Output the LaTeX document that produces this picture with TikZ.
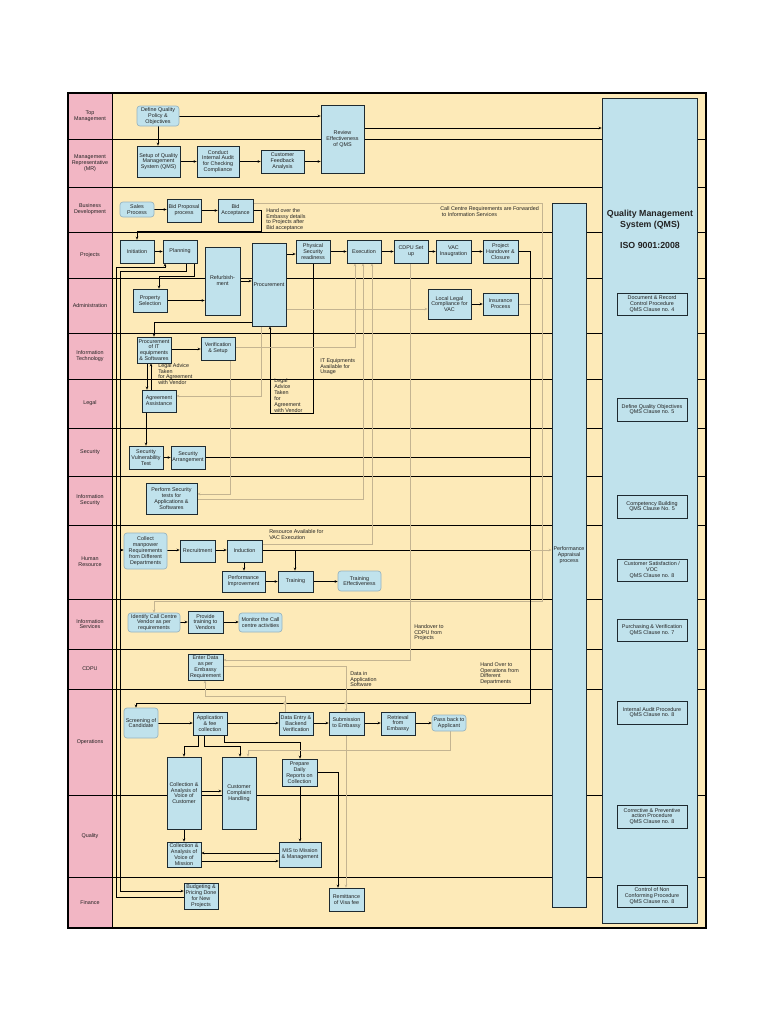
\documentclass[tikz,border=0pt]{standalone}
\usepackage{fontspec}
\setmainfont{Liberation Sans}
\usetikzlibrary{arrows.meta}
\definecolor{lane}{HTML}{FDEAB8}
\definecolor{pinkc}{HTML}{F2B6C4}
\definecolor{bfill}{HTML}{C0E2EC}
\definecolor{bord}{HTML}{1E2A30}
\definecolor{rbord}{HTML}{97B4BF}
\definecolor{gline}{HTML}{C4B491}
\definecolor{textc}{HTML}{222222}
\pgfdeclarelayer{bg}
\pgfdeclarelayer{mid}
\pgfsetlayers{bg,mid,main}
\newcommand\bx[7][box]{\node[#1, minimum width={(#5-#3)*0.75pt}, minimum height={(#6-#4)*0.75pt}] (#2) at ({(#3+#5)/2},{(#4+#6)/2}) {#7};}
\begin{document}
\begin{tikzpicture}[x=0.75pt,y=-0.75pt,
  every node/.style={font=\fontsize{4.05}{4.4}\selectfont, text=textc},
  box/.style={draw=bord, fill=bfill, line width=0.55pt, align=center, inner sep=0.2pt},
  rbox/.style={box, draw=rbord, rounded corners=2.2pt, line width=0.5pt},
  cbox/.style={box, line width=0.65pt},
  arr/.style={draw=black, line width=0.5pt, -{Stealth[length=2.2pt,width=1.9pt]}},
  ln/.style={draw=black, line width=0.5pt},
  garr/.style={draw=gline, line width=0.45pt, -{Stealth[length=2.2pt,width=1.9pt]}},
  gln/.style={draw=gline, line width=0.45pt},
  lbl/.style={align=left, inner sep=0pt, anchor=north west},
  lanel/.style={align=center, inner sep=0pt},
]
\useasboundingbox (0,0) rectangle (768,1024);
\begin{pgfonlayer}{bg}
\fill[lane] (68,93) rectangle (706,928);
\fill[pinkc] (68,93) rectangle (112,928);
\foreach \y in {139,187,232,278,333,379,428,476,525,599,649,689,795,877}
  \draw[line width=0.6pt] (68,\y) -- (706,\y);
\draw[line width=0.7pt] (112,93) -- (112,928);
\draw[line width=0.9pt] (68,93) rectangle (706,928);
\end{pgfonlayer}

% lane labels
\node[lanel] (L1) at (90,116) {Top\\Management};
\node[lanel] (L2) at (90,163) {Management\\Representative\\(MR)};
\node[lanel] (L3) at (90,209.5) {Business\\Development};
\node[lanel] (L4) at (90,255) {Projects};
\node[lanel] (L5) at (90,305.5) {Administration};
\node[lanel] (L6) at (90,356) {Information\\Technology};
\node[lanel] (L7) at (90,403.5) {Legal};
\node[lanel] (L8) at (90,452) {Security};
\node[lanel] (L9) at (90,500.5) {Information\\Security};
\node[lanel] (L10) at (90,562) {Human\\Resource};
\node[lanel] (L11) at (90,624) {Information\\Services};
\node[lanel] (L12) at (90,669) {CDPU};
\node[lanel] (L13) at (90,742) {Operations};
\node[lanel] (L14) at (90,836) {Quality};
\node[lanel] (L15) at (90,902.5) {Finance};

% big right boxes
\bx{qms}{602}{98}{697}{923}{}
\bx{pa}{552}{203}{586}{907}{Performance\\Appraisal\\process}
\node[font=\bfseries\fontsize{6.6}{8.2}\selectfont, align=center, inner sep=0pt] (qt) at (650,219.5) {Quality Management\\System (QMS)};
\node[font=\bfseries\fontsize{6.6}{8}\selectfont, inner sep=0pt] (iso) at (650,245) {ISO 9001:2008};
\bx[cbox]{c1}{617}{293}{687}{315}{Document \& Record\\Control Procedure\\QMS Clause no. 4}
\bx[cbox]{c2}{617}{398}{687}{421}{Define Quality Objectives\\QMS Clause no. 5}
\bx[cbox]{c3}{617}{495}{687}{518}{Competency Building\\QMS Clause No. 5}
\bx[cbox]{c4}{617}{559}{687}{581}{Customer Satisfaction /\\VOC\\QMS Clause no. 8}
\bx[cbox]{c5}{617}{619}{687}{641}{Purchasing \& Verification\\QMS Clause no. 7}
\bx[cbox]{c6}{617}{701}{687}{724}{Internal Audit Procedure\\QMS Clause no. 8}
\bx[cbox]{c7}{617}{805}{687}{828}{Corrective \& Preventive\\action Procedure\\QMS Clause no. 8}
\bx[cbox]{c8}{617}{885}{687}{907}{Control of Non\\Conforming Procedure\\QMS Clause no. 8}

% process boxes
\bx[rbox]{dq}{137}{106}{179}{126}{Define Quality\\Policy \&\\Objectives}
\bx{sq}{137}{146}{180}{177}{Setup of Quality\\Management\\System (QMS)}
\bx{ia}{197}{146}{239}{177}{Conduct\\Internal Audit\\for Checking\\Compliance}
\bx{cf}{261}{150}{304}{173}{Customer\\Feedback\\Analysis}
\bx{rv}{321}{105}{364}{173}{Review\\Effectiveness\\of QMS}
\bx[rbox]{sp}{120}{202}{154}{217}{Sales\\Process}
\bx{bp}{167}{199}{201}{222}{Bid Proposal\\process}
\bx{ba}{218}{199}{253}{222}{Bid\\Acceptance}
\bx{ini}{120}{240}{154}{263}{Initiation}
\bx{pl}{163}{240}{197}{263}{Planning}
\bx{rf}{205}{247}{240}{315}{Refurbish-\\ment}
\bx{pr}{252}{243}{286}{326}{Procurement}
\bx{ps}{296}{240}{330}{263}{Physical\\Security\\readiness}
\bx{ex}{347}{240}{381}{263}{Execution}
\bx{cs}{394}{240}{428}{263}{CDPU Set\\up}
\bx{vi}{436}{240}{471}{263}{VAC\\Inaugration}
\bx{ph}{483}{240}{518}{263}{Project\\Handover \&\\Closure}
\bx{ll}{428}{289}{471}{319}{Local Legal\\Compliance for\\VAC}
\bx{ip}{483}{293}{518}{315}{Insurance\\Process}
\bx{pse}{133}{289}{167}{312}{Property\\Selection}
\bx{pit}{137}{337}{171}{363}{Procurement\\of IT\\equipments\\\& Softwares}
\bx{vs}{201}{337}{235}{360}{Verification\\\& Setup}
\bx{ag}{142}{390}{176}{412}{Agreement\\Assistance}
\bx{svt}{129}{446}{163}{469}{Security\\Vulnerability\\Test}
\bx{sa}{171}{446}{205}{469}{Security\\Arrangement}
\bx{pst}{146}{483}{197}{514}{Perform Security\\tests for\\Applications \&\\Softwares}
\bx[rbox]{cm}{124}{533}{167}{569}{Collect\\manpower\\Requirements\\from Different\\Departments}
\bx{rc}{180}{540}{215}{562}{Recruitment}
\bx{ind}{227}{540}{262}{562}{Induction}
\bx{pi}{222}{571}{265}{592}{Performance\\Improvement}
\bx{tr}{278}{571}{313}{592}{Training}
\bx[rbox]{te}{338}{571}{381}{591}{Training\\Effectiveness}
\bx[rbox]{icv}{128}{613}{180}{632}{Identify Call Centre\\Vendor as per\\requirements}
\bx{ptv}{188}{611}{223}{633}{Provide\\training to\\Vendors}
\bx[rbox]{mca}{239}{613}{282}{632}{Monitor the Call\\centre activities}
\bx{ed}{188}{654}{223}{680}{Enter Data\\as per\\Embassy\\Requirement}
\bx[rbox]{sc}{124}{708}{158}{738}{Screening of\\Candidate}
\bx{af}{193}{712}{227}{735}{Application\\\& fee\\collection}
\bx{de}{279}{712}{313}{735}{Data Entry \&\\Backend\\Verification}
\bx{se}{329}{712}{364}{735}{Submission\\to Embassy}
\bx{re}{381}{712}{415}{735}{Retrieval\\from\\Embassy}
\bx[rbox]{pb}{432}{715}{466}{731}{Pass back to\\Applicant}
\bx{voc}{167}{757}{201}{829}{Collection \&\\Analysis of\\Voice of\\Customer}
\bx{cch}{222}{757}{256}{829}{Customer\\Complaint\\Handling}
\bx{pdr}{282}{759}{317}{786}{Prepare\\Daily\\Reports on\\Collection}
\bx{vom}{167}{842}{201}{867}{Collection \&\\Analysis of\\Voice of\\Mission}
\bx{mis}{279}{842}{321}{867}{MIS to Mission\\\& Management}
\bx{bud}{184}{883}{218}{909}{Budgeting \&\\Pricing Done\\for New\\Projects}
\bx{rem}{329}{888}{364}{911}{Remittance\\of Visa fee}

% free texts
\node[lbl] (t1) at (266,208) {Hand over the\\Embassy details\\to Projects after\\Bid acceptance};
\node[lbl] (t2) at (440,206) {Call Centre Requirements are Forwarded\\\ to Information Services};
\node[lbl] (t3) at (320,358) {IT Equipments\\Available for\\Usage};
\node[lbl] (t4) at (158,363) {Legal Advice\\Taken\\for Agreement\\with Vendor};
\node[lbl] (t5) at (274,378.5) {Legal\\Advice\\Taken\\for\\Agreement\\with Vendor};
\node[lbl] (t6) at (269,529.5) {Resource Available for\\VAC Execution};
\node[lbl] (t7) at (414,624) {Handover to\\CDPU from\\Projects};
\node[lbl] (t8) at (350,671) {Data in\\Application\\Software};
\node[lbl] (t9) at (480,662) {Hand Over to\\Operations from\\Different\\Departments};

\coordinate (jhr) at (120,550);
\coordinate (jtr) at (295,550);
\coordinate (jpa) at (530,550);

\begin{pgfonlayer}{mid}
% top management / MR
\draw[arr] (dq.east) -- (dq.east -| rv.west);
\draw[arr] (dq.south) -- (dq.south |- sq.north);
\draw[arr] (sq.east) -- (sq.east -| ia.west);
\draw[arr] (ia.east) -- (ia.east -| cf.west);
\draw[arr] (cf.east) -- (cf.east -| rv.west);
\draw[arr] (rv.east |- 0,128) -- (qms.west |- 0,128);
% business development
\draw[arr] (sp.east) -- (sp.east -| bp.west);
\draw[arr] (bp.east) -- (bp.east -| ba.west);
\draw[arr] (ba.east) -| (261,231) -| (ini.north);
\draw[garr] (ba.east |- 0,203) -| (542,601) -| (icv.north);
% projects
\draw[arr] (ini.east) -- (ini.east -| pl.west);
\draw[arr] (pl.south -| 194,0) |- (159,276) -- (pse.north -| 159,0);
\draw[arr] (pl.south -| 186,0) |- (120,271) -- (120,891) -- (bud.west |- 0,891);
\draw[arr] (jhr) -- (cm.west |- jhr);
\draw[arr] (bud.west |- 0,897) -- (116,897) -- (116,267) -- (165,267) -- (pl.south -| 165,0);
\draw[arr] (pse.east) -- (pse.east -| rf.west);
\draw[arr] (rf.east) -- (rf.east -| pr.west);
\draw[arr] (pr.east |- 0,254) -- (ps.west |- 0,254);
\draw[arr] (ps.east) -- (ps.east -| ex.west);
\draw[arr] (ex.east) -- (ex.east -| cs.west);
\draw[arr] (cs.east) -- (cs.east -| vi.west);
\draw[arr] (vi.east) -- (vi.east -| ph.west);
\draw[arr] (pr.west |- 0,322) -| (pit.north);
\draw[arr] (pit.east |- 0,349) -- (vs.west |- 0,349);
\draw[arr] (pit.south -| 147,0) -- (ag.north -| 147,0);
\draw[arr] (ag.north -| 151,0) -- (pit.south -| 151,0);
\draw[garr] (pr.south -| 261,0) |- (ag.east |- 0,396);
\draw[arr] (ps.south -| 313,0) |- (270,413) -- (pr.south -| 270,0);
\draw[arr] (ag.south -| 146,0) -- (svt.north -| 146,0);
\draw[arr] (svt.east) -- (svt.east -| sa.west);
\draw[ln] (sa.east) -- (sa.east -| 530,0);
\draw[garr] (vs.south -| 230,0) |- (pst.east |- 0,494);
\draw[garr] (pst.east |- 0,499) -| (ex.south -| 363,0);
\draw[garr] (vs.east |- 0,347) -| (ex.south -| 355,0);
\draw[garr] (pr.east |- 0,309) -- (ll.west |- 0,309);
\draw[arr] (ll.east |- 0,304) -- (ip.west |- 0,304);
\draw[gln] (ip.east) -- (ip.east -| 530,0);
\draw[arr] (ph.east) -| (530,703) -| (sc.north -| 136,0);
% human resource
\draw[ln] (ind.east |- jpa) -- (jpa);
\draw[garr] (jpa) -- (pa.west |- jpa);
\draw[arr] (jtr) -- (tr.north -| jtr);
\draw[garr] (ind.east |- 0,544) -| (ex.south -| 372,0);
\draw[arr] (ind.south -| 244,0) -- (pi.north -| 244,0);
\draw[arr] (cm.east |- jhr) -- (rc.west |- jhr);
\draw[arr] (rc.east |- jhr) -- (ind.west |- jhr);
\draw[arr] (pi.east) -- (pi.east -| tr.west);
\draw[arr] (tr.east) -- (tr.east -| te.west);
% information services
\draw[arr] (icv.east |- 0,622) -- (ptv.west |- 0,622);
\draw[arr] (ptv.east |- 0,622) -- (mca.west |- 0,622);
% CDPU
\draw[garr] (cs.south -| 410,0) |- (ed.east |- 0,660);
\draw[garr] (ed.east |- 0,666) -| (se.north -| 346,0);
\draw[garr] (de.north -| 285,0) |- (205,696) -- (ed.south -| 205,0);
\draw[gln, fill=lane] (285,703) circle[radius=1.1pt];
\draw[gln, fill=lane] (346,703) circle[radius=1.1pt];
% operations
\draw[arr] (sc.east |- 0,723) -- (af.west |- 0,723);
\draw[arr] (af.east |- 0,723) -- (de.west |- 0,723);
\draw[arr] (de.east |- 0,723) -- (se.west |- 0,723);
\draw[arr] (se.east |- 0,723) -- (re.west |- 0,723);
\draw[arr] (re.east |- 0,723) -- (pb.west |- 0,723);
\draw[arr] (af.south -| 198,0) |- (184,746) -- (voc.north -| 184,0);
\draw[arr] (af.south -| 204,0) |- (240,746) -- (cch.north -| 240,0);
\draw[arr] (af.south -| 224,0) |- (300,742) -- (pdr.north -| 300,0);
\draw[garr] (pb.south -| 450,0) |- (248,750) -- (cch.north -| 248,0);
\draw[garr] (se.south -| 346,0) -- (rem.north -| 346,0);
\draw[arr] (pdr.east |- 0,772) -| (rem.north -| 338,0);
\draw[arr] (pdr.south -| 300,0) -- (mis.north -| 300,0);
\draw[arr] (voc.east |- 0,791) -- (cch.west |- 0,791);
% quality
\draw[arr] (voc.south) -- (vom.north);
\draw[arr] (mis.west |- 0,853) -- (vom.east |- 0,853);
\draw[arr] (vom.east |- 0,861) -- (mis.west |- 0,861);
\end{pgfonlayer}
\end{tikzpicture}
\end{document}
